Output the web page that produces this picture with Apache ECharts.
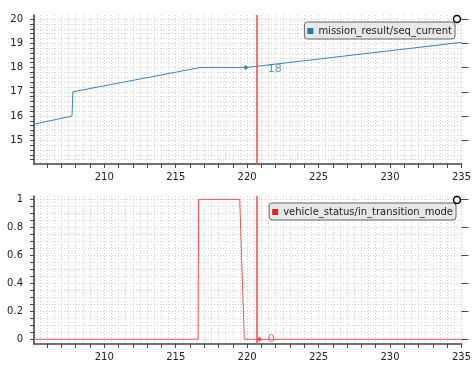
<!DOCTYPE html>
<html><head><meta charset="utf-8">
<script src="https://cdn.jsdelivr.net/npm/echarts@6/dist/echarts.min.js"></script>
<style>html,body{margin:0;padding:0;background:#fff}#c{width:474px;height:367px}</style>
</head><body><div id="c"></div>
<script>
// ---- data ----
const seqName = 'mission_result/seq_current';
const seqT = [205.08, 207.74, 207.8, 216.7, 219.9, 235];
const seqV = [15.66, 16.0, 17.0, 18.0, 18.0, 19.04];
const transName = 'vehicle_status/in_transition_mode';
const transT = [205.08, 216.57, 216.6, 219.48, 219.8, 235];
const transV = [0, 0, 1, 1, 0, 0];
const cursorT = 220.67;
const seqMarkT = 219.9, seqMarkV = 18;
const transMarkT = 220.85, transMarkV = 0;
const xLabels = [210, 215, 220, 225, 230, 235];
const topYLabels = [15, 16, 17, 18, 19, 20];
const botYLabels = [0, 0.2, 0.4, 0.6, 0.8, 1];
const xMin = 205.08, xMax = 235;
const topYMin = 14.02, topYMax = 20.17;
const botYMin = -0.034, botYMax = 1.024;

function steps(a, b, s) { const r = []; for (let i = Math.ceil(a / s - 1e-9); i * s <= b + 1e-9; i++) r.push(+(i * s).toFixed(4)); return r; }
function zip(a, b) { return a.map((v, i) => [v, b[i]]); }

const AX = '#444', GRID = '#d2d2d2', FONT = 'DejaVu Sans';
const blue = '#1f77b4';

const grids = [
  { left: 34, right: 12, top: 15, height: 149 },
  { left: 34, right: 12, top: 196, height: 148 }
];

function xAxes(gi) {
  return [
    { type: 'value', gridIndex: gi, min: xMin, max: xMax,
      axisLine: { show: true, onZero: false, lineStyle: { color: AX, width: 1.6 } },
      axisTick: { show: true, length: 4, lineStyle: { color: AX }, customValues: steps(xMin, xMax, 1) },
      axisLabel: { customValues: xLabels, fontFamily: FONT, fontSize: 10, color: '#222', margin: 8 },
      splitLine: { show: false } },
    { type: 'value', gridIndex: gi, min: xMin, max: xMax,
      axisLine: { show: false }, axisLabel: { show: false },
      axisTick: { show: false, customValues: steps(xMin, xMax, 0.5) },
      splitLine: { show: true, lineStyle: { color: GRID, type: [1, 2], width: 1 } } }
  ];
}
function yAxes(gi, mn, mx, minorStep, labels, fmt) {
  return [
    { type: 'value', gridIndex: gi, min: mn, max: mx,
      axisLine: { show: true, onZero: false, lineStyle: { color: AX, width: 1.6 } },
      axisTick: { show: true, length: 4, lineStyle: { color: AX }, customValues: steps(mn, mx, minorStep) },
      axisLabel: { customValues: labels, fontFamily: FONT, fontSize: 10, color: '#222', margin: 11, formatter: fmt },
      splitLine: { show: true, lineStyle: { color: GRID, type: [1, 2], width: 1 } } },
    { type: 'value', gridIndex: gi, min: mn, max: mx,
      axisLine: { show: false }, axisLabel: { show: false },
      axisTick: { show: true, length: 7, lineStyle: { color: AX }, customValues: labels },
      splitLine: { show: false } }
  ];
}

const cursorLine = {
  silent: true, symbol: 'none', label: { show: false },
  lineStyle: { color: '#f25555', width: 1.6, type: 'solid' },
  data: [{ xAxis: cursorT }]
};

const legendBase = {
  icon: 'rect', itemWidth: 6, itemHeight: 6, padding: [4, 3, 3, 3],
  backgroundColor: '#e8e8e8', borderColor: '#666', borderWidth: 1, borderRadius: 3,
  textStyle: { fontFamily: FONT, fontSize: 10, color: '#222' }
};

const option = {
  animation: false,
  textStyle: { fontFamily: FONT },
  grid: grids,
  xAxis: [...xAxes(0), ...xAxes(1)],
  yAxis: [...yAxes(0, topYMin, topYMax, 0.2, topYLabels, v => String(v)),
          ...yAxes(1, botYMin, botYMax, 0.05, botYLabels, v => String(v))],
  legend: [
    Object.assign({ data: [{ name: seqName, itemStyle: { color: blue } }], right: 19, top: 22 }, legendBase),
    Object.assign({ data: [{ name: transName, itemStyle: { color: '#d62728' } }], right: 18, top: 203 }, legendBase)
  ],
  series: [
    { name: seqName, type: 'line', xAxisIndex: 0, yAxisIndex: 0, data: zip(seqT, seqV),
      showSymbol: false, color: blue, lineStyle: { width: 1, color: '#3b80bd' }, markLine: cursorLine },
    { name: 'seqMark', type: 'scatter', xAxisIndex: 0, yAxisIndex: 0, data: [[seqMarkT, seqMarkV]],
      symbol: 'diamond', symbolSize: 5, itemStyle: { color: '#1f5f99' }, silent: true },
    { name: 'seqLabel', type: 'scatter', xAxisIndex: 0, yAxisIndex: 0, data: [[cursorT, seqMarkV]],
      symbolSize: 0, silent: true, z: 5,
      label: { show: true, position: 'right', distance: 11, offset: [0, 2], formatter: () => String(seqMarkV),
               color: '#3a7ab4', fontFamily: FONT, fontSize: 11 } },
    { name: transName, type: 'line', xAxisIndex: 2, yAxisIndex: 2, data: zip(transT, transV),
      showSymbol: false, color: '#d62728', lineStyle: { width: 1, color: '#e85858' }, markLine: cursorLine },
    { name: 'transMark', type: 'scatter', xAxisIndex: 2, yAxisIndex: 2, data: [[transMarkT, transMarkV]],
      symbol: 'diamond', symbolSize: 5, itemStyle: { color: '#c81e1e' }, silent: true },
    { name: 'transLabel', type: 'scatter', xAxisIndex: 2, yAxisIndex: 2, data: [[cursorT, transMarkV]],
      symbolSize: 0, silent: true, z: 5,
      label: { show: true, position: 'right', distance: 11, formatter: () => String(transMarkV),
               color: '#e04848', fontFamily: FONT, fontSize: 11 } }
  ],
  graphic: [
    { type: 'circle', shape: { cx: 457, cy: 19, r: 3.5 }, style: { fill: '#fff', stroke: '#000', lineWidth: 1.5 }, z: 100 },
    { type: 'circle', shape: { cx: 457, cy: 200, r: 3.5 }, style: { fill: '#fff', stroke: '#000', lineWidth: 1.5 }, z: 100 }
  ]
};
const chart = echarts.init(document.getElementById('c'), null, { renderer: 'canvas' });
chart.setOption(option);
</script></body></html>
